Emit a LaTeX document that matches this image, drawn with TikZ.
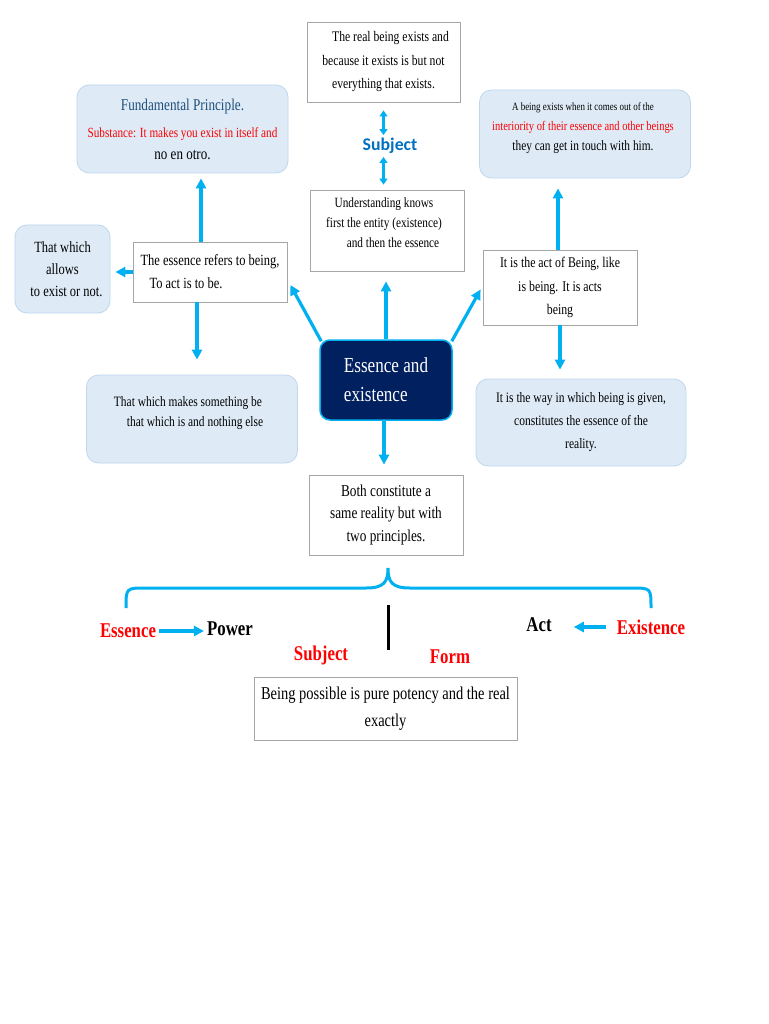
\documentclass[tikz,border=0pt]{standalone}
\usepackage{fontspec}
\setmainfont{Liberation Serif}[FakeStretch=0.8]
\newfontfamily\calfont{Carlito}
\usepackage{tikz}
\usetikzlibrary{arrows.meta}

\definecolor{linkblue}{HTML}{00B0F0}
\definecolor{softfill}{HTML}{DEEBF7}
\definecolor{softline}{HTML}{BDD7EE}
\definecolor{corefill}{HTML}{002060}
\definecolor{boxline}{HTML}{A6A6A6}
\definecolor{headblue}{HTML}{1F4E79}
\definecolor{subjblue}{HTML}{0070C0}

\begin{document}
\begin{tikzpicture}[
	  x=1pt,y=-1pt,
	  plainbox/.style={draw=boxline,line width=0.8pt,fill=white,align=center,inner sep=2pt},
	  softbox/.style={draw=softline,line width=0.8pt,fill=softfill,rounded corners=12pt,align=center,inner sep=2pt},
	  corenode/.style={draw=linkblue,line width=1.5pt,fill=corefill,text=white,rounded corners=10pt,align=left},
	  link/.style={draw=linkblue,line width=3.2pt,-{Triangle[length=10pt,width=10pt]}},
	  dlink/.style={draw=linkblue,line width=2.2pt,{Triangle[length=6pt,width=8pt]}-{Triangle[length=6pt,width=8pt]}},
	  biglabel/.style={font=\fontsize{21}{24}\selectfont\bfseries,inner sep=3pt}
	]
		\fill [white] (0,0) rectangle (768,1024);
		\useasboundingbox (0,0) rectangle (768,1024);

		\node [plainbox,minimum width=153pt,minimum height=80pt,font=\fontsize{14.6}{23.5}\selectfont] (real) at (383.5,62)
			{\hspace*{14pt}The real being exists and\\because it exists is but not\\everything that exists.};
		\node [inner sep=3pt,text=subjblue,font=\calfont\bfseries\fontsize{17.8}{20}\selectfont] (subj) at (390,146) {Subject};
		\node [plainbox,minimum width=154pt,minimum height=81pt] (und) at (387,230.5) {};
		\node [align=center,font=\fontsize{14.1}{20}\selectfont] (undtxt) at (384,223)
			{Understanding knows\\first the entity (existence)\\\hspace*{18pt}and then the essence};

		\node [softbox,minimum width=211pt,minimum height=88pt,font=\fontsize{14}{22}\selectfont] (fund) at (182.5,129)
			{\textcolor{headblue}{\fontsize{16.5}{22}\selectfont Fundamental Principle.}\\[5pt]
			 \textcolor{red}{Substance: It makes you exist in itself and}\\
			 {\fontsize{16.3}{22}\selectfont no en otro.}};
		\node [softbox,minimum width=95pt,minimum height=88pt,font=\fontsize{15.6}{22}\selectfont] (allows) at (62.5,269)
			{That which\\allows\\\hspace*{8pt}to exist or not.};
		\node [plainbox,align=left,minimum width=154pt,minimum height=60pt,font=\fontsize{15.6}{23}\selectfont] (essbox) at (210,272)
			{The essence refers to being,\\\hspace*{9pt}To act is to be.};
		\node [softbox,minimum width=211pt,minimum height=88pt] (makes) at (192,419) {};
		\node [align=center,font=\fontsize{14.3}{20}\selectfont] (makestxt) at (188,413)
			{That which makes something be\\\hspace*{14pt}that which is and nothing else};

		\node [softbox,minimum width=211pt,minimum height=88pt] (abeing) at (585,134) {};
		\node [align=center,font=\fontsize{14.2}{20}\selectfont] (abeingtxt) at (583,128)
			{{\fontsize{11.2}{20}\selectfont A being exists when it comes out of the}\\
			 \textcolor{red}{\fontsize{13.1}{20}\selectfont interiority of their essence and other beings}\\
			 they can get in touch with him.};
		\node [plainbox,minimum width=154pt,minimum height=75pt,font=\fontsize{14.8}{23.5}\selectfont] (act) at (560,287.5)
			{It is the act of Being, like\\is being. It is acts\\being};
		\node [softbox,minimum width=210pt,minimum height=87pt,font=\fontsize{14.4}{23}\selectfont] (way) at (581,422.5)
			{It is the way in which being is given,\\constitutes the essence of the\\reality.};

		\node [corenode,minimum width=132pt,minimum height=80pt,font=\fontsize{21.4}{29}\selectfont] (core) at (386,380)
			{Essence and\\existence};
		\node [plainbox,minimum width=154pt,minimum height=80pt,font=\fontsize{16.6}{22.5}\selectfont] (both) at (386,515)
			{Both constitute a\\same reality but with\\two principles.};

		\draw [link,shorten >=5pt] (essbox.west) -- (essbox.west -| allows.east);
		\draw [link,shorten >=5pt] ([xshift=-9pt]essbox.north) -- ([xshift=-9pt]essbox.north |- fund.south);
		\draw [link,shorten >=15pt] ([xshift=-13pt]essbox.south) -- ([xshift=-13pt]essbox.south |- makes.north);
		\draw [link] ([xshift=2pt,yshift=-2pt]core.north west) -- ([xshift=3pt,yshift=-13pt]essbox.east);
		\draw [link,shorten >=10pt] (core.north) -- (core.north |- und.south);
		\draw [link] ([xshift=-1pt,yshift=-2pt]core.north east) -- ([xshift=-2pt,yshift=-2pt]act.west);
		\draw [link,shorten >=9pt] (act.south) -- (act.south |- way.north);
		\draw [link,shorten >=10pt] ([xshift=-2pt]act.north) -- ([xshift=-2pt]act.north |- abeing.south);
		\draw [link,shorten >=10pt] ([xshift=-2pt]core.south) -- ([xshift=-2pt]core.south |- both.north);
		\draw [dlink,shorten <=8pt] (real.south) -- (real.south |- subj.north);
		\draw [dlink,shorten >=5pt] (real.south |- subj.south) -- (real.south |- und.north);

		\draw [linkblue,line width=3pt] (126,608) .. controls (126,588) .. (146,588) -- (366,588)
			.. controls (384,588) and (388,582) .. (388,568) .. controls (388,582) and (392,588) .. (410,588)
			-- (631,588) .. controls (651,588) .. (651,608);
		\draw [line width=3pt] (388,605) -- (388,650);

		\node [biglabel,text=red] (essl) at (128,631) {Essence};
		\node [biglabel] (power) at (230,629) {Power};
		\node [biglabel,text=red] (subjl) at (321,655) {Subject};
		\node [biglabel,text=red] (forml) at (450,657) {Form};
		\node [biglabel] (actl) at (539,625) {Act};
		\node [biglabel,text=red] (exl) at (651,627) {Existence};
		\draw [link] (essl.east) -- (essl.east -| power.west);
		\draw [link,shorten <=8pt,shorten >=19pt] (exl.west) -- (exl.west -| actl.east);

		\node [plainbox,minimum width=263pt,minimum height=63pt,font=\fontsize{18.1}{27}\selectfont] (possible) at (385.5,708.5)
			{Being possible is pure potency and the real\\exactly};
	\end{tikzpicture}
\end{document}
